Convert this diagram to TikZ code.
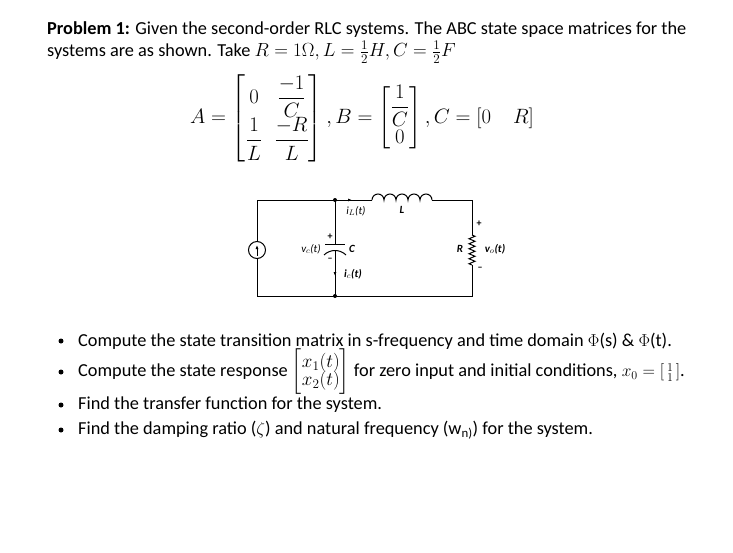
\documentclass[tikz,border=0pt]{standalone}
\usepackage{amsmath}
\usepackage{fontspec}
\setmainfont{Carlito}
\usetikzlibrary{arrows.meta,decorations.pathmorphing}
\begin{document}
\begin{tikzpicture}[x=1pt,y=-1pt,font=\fontsize{18.3}{20}\selectfont,
  txt/.style={anchor=west,inner sep=0pt},
  wire/.style={line width=1pt},
  lbl/.style={font=\fontsize{11}{12}\selectfont\itshape,inner sep=1pt}]
\useasboundingbox (0,0) rectangle (733,552);
\node[txt] (t1) at (47,30) {\textbf{Problem 1:} Given the second-order RLC systems. The ABC state space matrices for the};
\node[txt] (t2) at (47,52) {systems are as shown. Take \scalebox{1.1}{$R=1\Omega, L=\tfrac12 H, C=\tfrac12 F$}};
\node (mat) at (362,118) {\scalebox{1.2}{$A=\begin{bmatrix}0 & \dfrac{-1}{C}\\[2pt] \dfrac{1}{L} & \dfrac{-R}{L}\end{bmatrix},B=\begin{bmatrix}\dfrac{1}{C}\\ 0\end{bmatrix},C=[0\quad R]$}};
% circuit
\coordinate (tl) at (257,200); \coordinate (bl) at (257,296);
\coordinate (tc) at (335,200); \coordinate (bc) at (335,296);
\coordinate (tr) at (472,200); \coordinate (br) at (472,296);
\coordinate (l1) at (372,200); \coordinate (l2) at (432,200);
\coordinate (r1) at (472,235); \coordinate (r2) at (472,265);
\coordinate (c1) at (335,244); \coordinate (c2) at (335,251);
\node[circle,draw,line width=1pt,minimum size=17pt,inner sep=0pt,fill=white] (src) at (257,250) {};
\draw[wire] (src.north) -- (tl) -- (l1);
\draw[wire,-{Latex[length=4pt]}] (src.south) ++(0,-3) -- ++(0,-11);
\draw[wire] (l2) -- (tr) -- (r1);
\draw[wire,decorate,decoration={zigzag,segment length=5pt,amplitude=3pt}] (r1) -- (r2);
\draw[wire] (r2) -- (br) -- (bl) -- (src.south);
\draw[wire] (tc) -- (c1); \draw[wire] (c2) -- (bc);
\draw[wire] (325,244) -- (345,244);
\draw[wire] (324,255) .. controls (330,249) and (340,249) .. (346,255);
\fill (tc) circle (2pt); \fill (bc) circle (2pt);
\draw[wire] (372,200) \foreach \i in {0,...,4} {arc (180:360:6)};
\draw[wire,-{Latex[length=4pt]}] (340,200) -- (352,200);
\draw[wire,-{Latex[length=4pt]}] (335,268) -- (335,276);
\node[lbl] (il) at (356,211) {i$_L$(t)};
\node[font=\fontsize{11}{12}\selectfont\bfseries\itshape] (L) at (402,210) {L};
\node[lbl] (vc) at (311,249) {v$_c$(t)};
\node[font=\fontsize{10}{11}\selectfont\bfseries] at (330,237) {+};
\node[font=\fontsize{10}{11}\selectfont\bfseries] at (330,260) {--};
\node[font=\fontsize{11}{12}\selectfont\bfseries\itshape] (Cl) at (352,249) {C};
\node[lbl,font=\fontsize{11}{12}\selectfont\bfseries\itshape] (ic) at (353,274) {i$_c$(t)};
\node[font=\fontsize{11}{12}\selectfont\bfseries\itshape] (R) at (460,249) {R};
\node[font=\fontsize{10}{11}\selectfont\bfseries] at (479,224) {+};
\node[font=\fontsize{10}{11}\selectfont\bfseries] at (480,269) {--};
\node[lbl,font=\fontsize{11}{12}\selectfont\bfseries\itshape] (vo) at (495,249) {v$_o$(t)};
% bullets
\foreach \y in {341,372,405,430} {\fill (61,\y) circle (2.5pt);}
\node[txt] (b1) at (78,341) {Compute the state transition matrix in s-frequency and time domain $\Phi$(s) \& $\Phi$(t).};
\node[txt] (b2) at (78,372) {Compute the state response \scalebox{1.1}{$\begin{bmatrix}x_1(t)\\[-4pt]x_2(t)\end{bmatrix}$} for zero input and initial conditions, $x_0=\left[\begin{smallmatrix}1\\1\end{smallmatrix}\right]$.};
\node[txt] (b3) at (78,405) {Find the transfer function for the system.};
\node[txt] (b4) at (78,430) {Find the damping ratio ($\zeta$) and natural frequency (w\textsubscript{n)}) for the system.};
\end{tikzpicture}
\end{document}
